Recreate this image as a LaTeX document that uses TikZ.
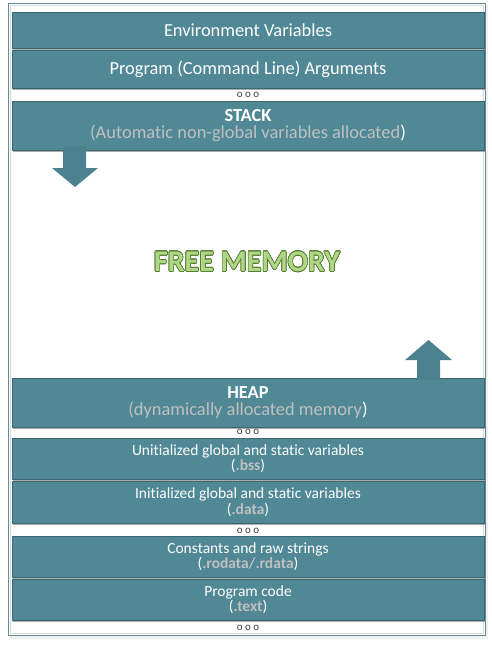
\documentclass[tikz,border=0pt]{standalone}
\usepackage{fontspec}
\setmainfont{Carlito}[Ligatures=NoCommon]
\usepackage[copies]{contour}
\usetikzlibrary{shadows}
\definecolor{boxfill}{RGB}{80,136,149}
\definecolor{boxdraw}{RGB}{58,102,112}
\definecolor{greytext}{RGB}{192,192,192}
\definecolor{arrowfill}{RGB}{76,130,143}
\definecolor{framecol}{RGB}{95,140,150}
\definecolor{lightgreen}{RGB}{176,214,136}
\definecolor{darkgreen}{RGB}{88,126,48}
\contourlength{0.6pt}
\contournumber{24}
\begin{document}
\begin{tikzpicture}[x=1pt,y=-1pt,
  seg/.style={draw=boxdraw,line width=0.8pt,fill=boxfill,minimum width=472pt,
    inner sep=0pt,text=white,align=center,
    drop shadow={shadow xshift=0.8pt,shadow yshift=-1.6pt,opacity=0.45,fill=black!70}},
  small/.style={font=\fontsize{15.5}{15.5}\selectfont},
  big/.style={font=\fontsize{18.4}{17.5}\selectfont},
  dots/.style={font=\fontsize{11}{11}\selectfont,text=black!75,inner sep=0pt},
  bigarrow/.style={fill=arrowfill,draw=none}]
\useasboundingbox (0,0) rectangle (492,646);
% outer frame
\fill[black!6] (10,5) rectangle (488,639);
\fill[white] (8,3) rectangle (485,636);
\draw[framecol,line width=0.9pt] (8.5,3.5) rectangle (485,635.5);
\draw[black!15,line width=0.6pt] (10.5,5.5) rectangle (483,633.5);
% boxes
\node[seg,big,minimum height=36pt] (env) at (248,30) {Environment Variables};
\node[seg,big,minimum height=38pt] (args) at (248,69) {Program (Command Line) Arguments};
\node[dots] (d1) at (248,94.5) {o o o};
\node[seg,big,minimum height=49pt] (stack) at (248,125.5) {\textbf{STACK}\\\textcolor{greytext}{(}\textcolor{greytext}{Automatic non-global variables allocated}\textcolor{white}{)}};
% down arrow
\path[bigarrow] (63,146) -- (86,146) -- (86,168) -- (98,168) -- (75,187) -- (52,168) -- (63,168) -- cycle;
% free memory
\node[font=\fontsize{30}{32}\selectfont\bfseries] (free) at (247,262) {\contour{darkgreen}{\textcolor{lightgreen}{FREE MEMORY}}};
% up arrow
\path[bigarrow] (417,380) -- (440,380) -- (440,360) -- (452,360) -- (428.5,340) -- (405,360) -- (417,360) -- cycle;
\node[seg,big,minimum height=49pt] (heap) at (248,402.5) {\textbf{HEAP}\\\textcolor{greytext}{(dynamically allocated memory}\textcolor{white}{)}};
\path[bigarrow] (417,377) rectangle (440,380);
\node[dots] (d2) at (248,431.5) {o o o};
\node[seg,small,minimum height=41pt] (bss) at (248,458.5) {Unitialized global and static variables\\(\textcolor{greytext}{\textbf{.bss}})};
\node[seg,small,minimum height=42pt] (data) at (248,502) {Initialized global and static variables\\(\textcolor{greytext}{\textbf{.data}})};
\node[dots] (d3) at (248,531) {o o o};
\node[seg,small,minimum height=41pt] (ro) at (248,556.5) {Constants and raw strings\\(\textcolor{greytext}{\textbf{.rodata/.rdata}})};
\node[seg,small,minimum height=41pt] (text) at (248,599.5) {Program code\\(\textcolor{greytext}{\textbf{.text}})};
\node[dots] (d4) at (248,627.5) {o o o};
\end{tikzpicture}
\end{document}
